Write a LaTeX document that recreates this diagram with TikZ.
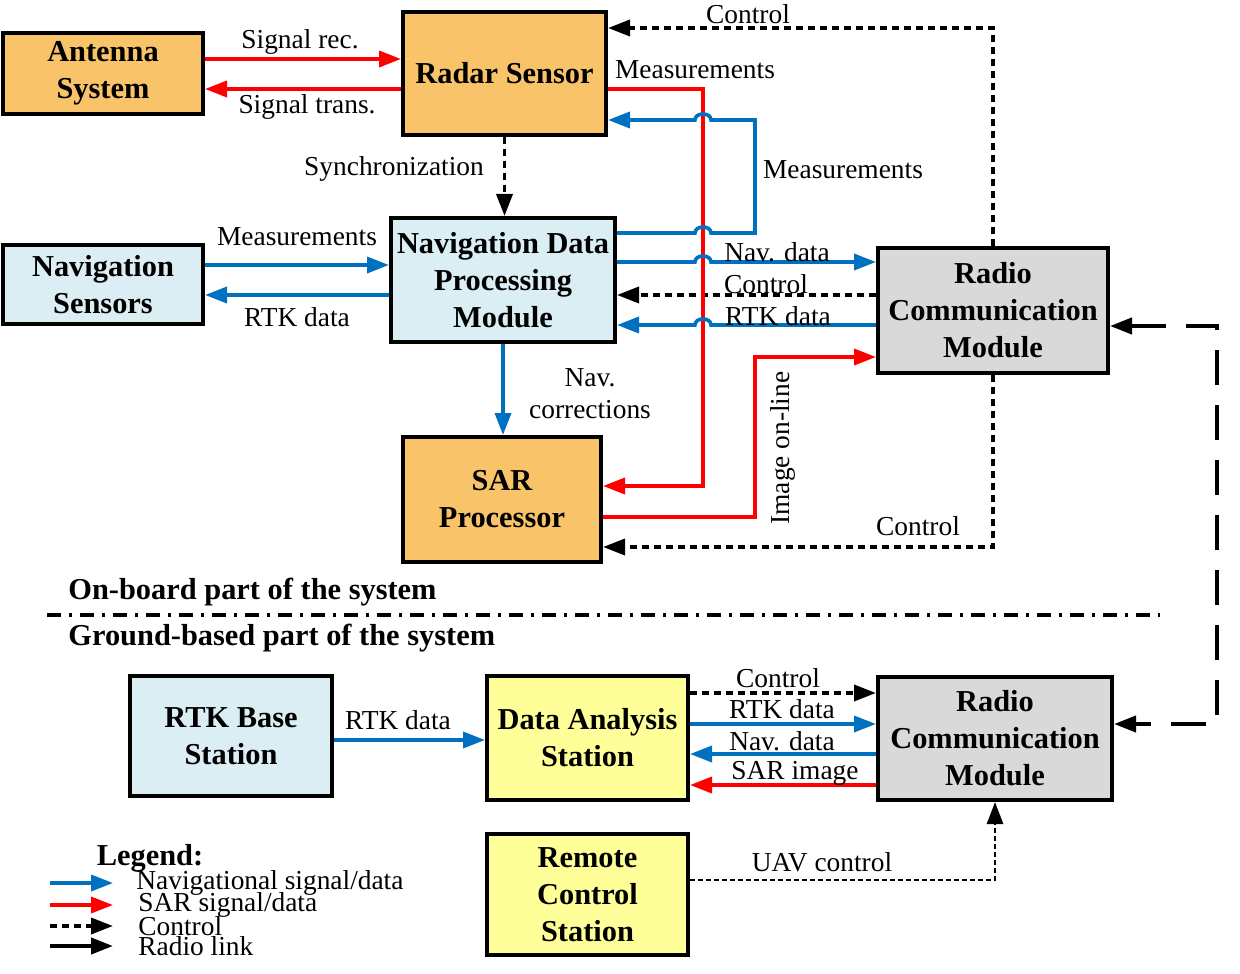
\documentclass[tikz,border=0pt]{standalone}
\usepackage{fontspec}
\setmainfont{Liberation Serif}
\usetikzlibrary{arrows.meta,calc}
\definecolor{orng}{HTML}{F9C36A}
\definecolor{lblue}{HTML}{DAEEF3}
\definecolor{lgray}{HTML}{D9D9D9}
\definecolor{lyel}{HTML}{FFFF99}
\definecolor{navblue}{HTML}{0070C0}
\definecolor{sarred}{HTML}{FF0000}
\begin{document}
\begin{tikzpicture}[x=0.5pt,y=-0.5pt,
  box/.style={draw, line width=2pt, align=center, inner sep=0pt,
    font=\fontsize{15.2}{18.5}\selectfont\bfseries},
  lbl/.style={font=\fontsize{13.7}{16}\selectfont, inner sep=0pt},
  ttl/.style={font=\fontsize{15.2}{18.5}\selectfont\bfseries, inner sep=0pt},
  tip/.style={-{Triangle[length=11pt,width=8pt]}},
  navl/.style={draw=navblue, line width=1.8pt, tip},
  sarl/.style={draw=sarred, line width=1.8pt, tip},
  ctrl/.style={draw=black, line width=1.8pt, dash pattern=on 3.5pt off 2.5pt, tip},
  uavl/.style={draw=black, line width=1.3pt, dash pattern=on 2.5pt off 1.5pt, tip},
  radiol/.style={draw=black, line width=2pt, dash pattern=on 17.5pt off 10pt},
  radiotip/.style={{Triangle[length=11pt,width=8pt]}-{Triangle[length=11pt,width=8pt]}},
  sep/.style={draw=black, line width=2pt, dash pattern=on 7pt off 4pt on 1.5pt off 4pt}
]
\useasboundingbox (0,0) rectangle (1240,973);

% ---- boxes ----
\node[box, fill=orng, minimum width=100pt, minimum height=40.5pt] (ant) at (103,73.5) {Antenna\\System};
\node[box, fill=orng, minimum width=101.5pt, minimum height=61.5pt] (rs) at (504.5,73.5) {Radar Sensor};
\node[box, fill=lblue, minimum width=100pt, minimum height=39.5pt] (ns) at (103,284.5) {Navigation\\Sensors};
\node[box, fill=lblue, minimum width=112pt, minimum height=62pt] (ndpm) at (503,280) {Navigation Data\\Processing\\Module};
\node[box, fill=orng, minimum width=99pt, minimum height=62.5pt] (sar) at (502,499.5) {SAR\\Processor};
\node[box, fill=lgray, minimum width=115pt, minimum height=62.5pt] (rcm1) at (993,310.5) {Radio\\Communication\\Module};
\node[box, fill=lblue, minimum width=101pt, minimum height=60pt] (rtk) at (231,736) {RTK Base\\Station};
\node[box, fill=lyel, minimum width=100.5pt, minimum height=62pt] (das) at (587.5,738) {Data Analysis\\Station};
\node[box, fill=lgray, minimum width=117pt, minimum height=61.5pt] (rcm2) at (995,738.5) {Radio\\Communication\\Module};
\node[box, fill=lyel, minimum width=100.5pt, minimum height=60.5pt] (rcs) at (587.5,894.5) {Remote\\Control\\Station};

% ---- on-board connectors ----
\draw[sarl] (ant.east |- 0,59) -- (rs.west |- 0,59);
\draw[sarl] (rs.west |- 0,89) -- (ant.east |- 0,89);
\draw[ctrl] (rs.south) -- (rs.south |- ndpm.north);
\draw[navl] (ns.east |- 0,265) -- (ndpm.west |- 0,265);
\draw[navl] (ndpm.west |- 0,295) -- (ns.east |- 0,295);

\draw[ctrl] (rcm1.north) -- (993,28) -- (rs.east |- 0,28);
\draw[ctrl] (rcm1.west |- 0,295) -- (ndpm.east |- 0,295);
\draw[ctrl] (rcm1.south) -- (993,547) -- (sar.east |- 0,547);

\draw[sarl] (rs.east |- 0,89) -- (703,89) -- (703,486) -- (sar.east |- 0,486);
\draw[sarl] (sar.east |- 0,517) -- (755,517) -- (755,357) -- (rcm1.west |- 0,357);

\draw[navl] (ndpm.east |- 0,233) -- (695,233) .. controls (695,225) and (711,225) .. (711,233)
  -- (755,233) -- (755,120) -- (711,120) .. controls (711,112) and (695,112) .. (695,120)
  -- (rs.east |- 0,120);
\draw[navl] (ndpm.east |- 0,262) -- (695,262) .. controls (695,254) and (711,254) .. (711,262)
  -- (rcm1.west |- 0,262);
\draw[navl] (rcm1.west |- 0,325) -- (711,325) .. controls (711,317) and (695,317) .. (695,325)
  -- (ndpm.east |- 0,325);
\draw[navl] (ndpm.south) -- (ndpm.south |- sar.north);

% ---- radio link ----
\draw[radiol, radiotip] (rcm1.east |- 0,326) -- (1217,326) -- (1217,724) -- (rcm2.east |- 0,724);

% ---- ground connectors ----
\draw[navl] (rtk.east |- 0,740) -- (das.west |- 0,740);
\draw[ctrl] (das.east |- 0,693) -- (rcm2.west |- 0,693);
\draw[navl] (das.east |- 0,724) -- (rcm2.west |- 0,724);
\draw[navl] (rcm2.west |- 0,754) -- (das.east |- 0,754);
\draw[sarl] (rcm2.west |- 0,785) -- (das.east |- 0,785);
\draw[uavl] (rcs.east |- 0,880) -| (rcm2.south);

% ---- separator ----
\coordinate (sepL) at (47,615);
\coordinate (sepR) at (1160,615);
\draw[sep] (sepL) -- (sepR);
\node[ttl, anchor=west] (tOn) at (68,592) {On-board part of the system};
\node[ttl, anchor=west] (tGr) at (68,638) {Ground-based part of the system};

% ---- labels ----
\node[lbl] (l1) at (300,42) {Signal rec.};
\node[lbl] (l2) at (307,107) {Signal trans.};
\node[lbl] (l3) at (695,70) {Measurements};
\node[lbl] (l4) at (748,14) {Control};
\node[lbl] (l5) at (394,169) {Synchronization};
\node[lbl] (l6) at (843,170) {Measurements};
\node[lbl] (l7) at (297,237) {Measurements};
\node[lbl] (l8) at (297,317) {RTK data};
\node[lbl] (l9) at (777,252) {Nav. data};
\node[lbl] (l10) at (766,284) {Control};
\node[lbl] (l11) at (778,316) {RTK data};
\node[lbl, align=center] (l12) at (590,394) {Nav.\\corrections};
\node[lbl, rotate=90] (l13) at (783,448) {Image on-line};
\node[lbl] (l14) at (918,526) {Control};
\node[lbl] (l15) at (398,720) {RTK data};
\node[lbl] (l16) at (778,678) {Control};
\node[lbl] (l17) at (782,709) {RTK data};
\node[lbl] (l18) at (782,741) {Nav. data};
\node[lbl] (l19) at (795,773) {SAR image};
\node[lbl] (l20) at (822,862) {UAV control};

% ---- legend ----
\node[ttl] (leg) at (150,858) {Legend:};
\coordinate (a1) at (50,883); \coordinate (b1) at (113,883);
\coordinate (a2) at (50,905); \coordinate (b2) at (113,905);
\coordinate (a3) at (50,926); \coordinate (b3) at (113,926);
\coordinate (a4) at (50,946); \coordinate (b4) at (113,946);
\draw[navl] (a1) -- (b1);
\draw[sarl] (a2) -- (b2);
\draw[ctrl] (a3) -- (b3);
\draw[draw=black, line width=2pt, tip] (a4) -- (b4);
\node[lbl, anchor=west] (g1) at (136,883) {Navigational signal/data};
\node[lbl, anchor=west] (g2) at (138,905) {SAR signal/data};
\node[lbl, anchor=west] (g3) at (138,926) {Control};
\node[lbl, anchor=west] (g4) at (138,946) {Radio link};
\end{tikzpicture}
\end{document}
